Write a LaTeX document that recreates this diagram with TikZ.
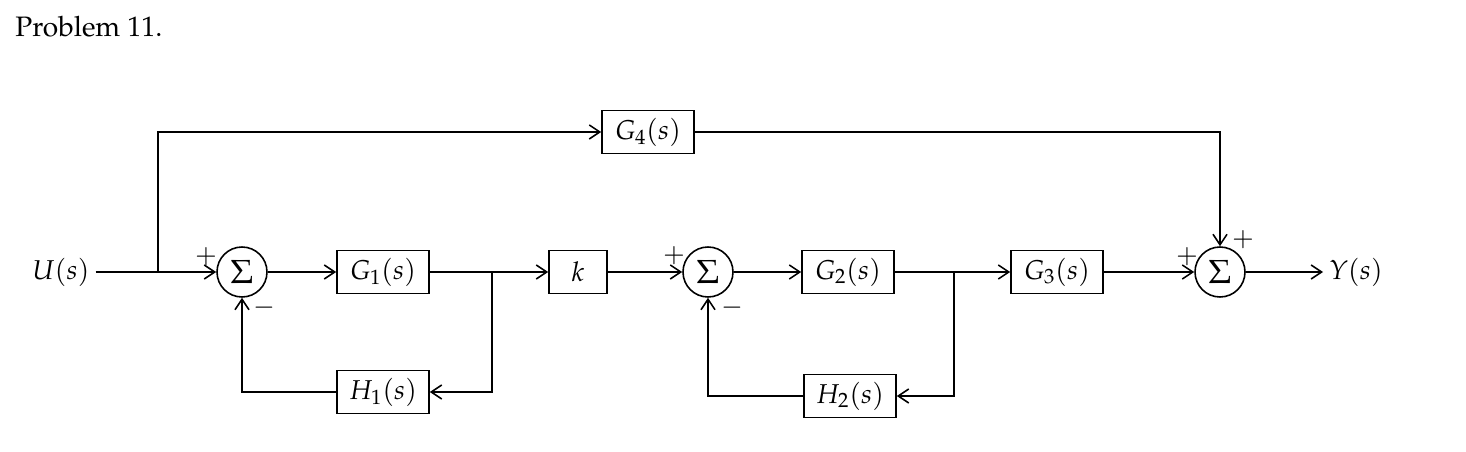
\documentclass[tikz,border=0pt]{standalone}
\usepackage[T1]{fontenc}
\usepackage{mathpazo}
\usetikzlibrary{arrows.meta, positioning}

\tikzset{
  block/.style={draw, line width=0.9pt, minimum width=1.84cm, minimum height=0.86cm, inner sep=0pt},
  sumnode/.style={draw, circle, line width=0.9pt, minimum size=1cm, inner sep=0pt, font=\fontsize{19}{22}\selectfont},
  sig/.style={-{Straight Barb[length=6pt,width=8pt]}, line width=0.9pt},
  wire/.style={line width=0.9pt},
  sign/.style={inner sep=0pt, font=\fontsize{15}{18}\selectfont},
}

\begin{document}
\begin{tikzpicture}[x=0.02cm, y=-0.02cm, font=\fontsize{15.5}{18}\selectfont]
  \useasboundingbox (0,0) rectangle (1466,452);
  \node[anchor=base west, inner sep=0pt, font=\fontsize{16}{19}\selectfont] (title) at (15,37) {Problem 11.};

  % forward path
  \node (u) at (61,272) {$U(s)$};
  \node[sumnode] (s1) at (242,272) {$\Sigma$};
  \node[block] (g1) at (383,272) {$G_1(s)$};
  \node[block, minimum width=1.16cm] (k) at (578,272) {$k$};
  \node[sumnode] (s2) at (708,272) {$\Sigma$};
  \node[block] (g2) at (848,272) {$G_2(s)$};
  \node[block] (g3) at (1057,272) {$G_3(s)$};
  \node[sumnode] (s3) at (1220,272) {$\Sigma$};
  \node (y) at (1356,272) {$Y(s)$};

  % feedback and feedforward blocks
  \node[block] (h1) at (383,392) {$H_1(s)$};
  \node[block] (h2) at (850,396) {$H_2(s)$};
  \node[block] (g4) at (648,132) {$G_4(s)$};

  \coordinate (b0) at (158,272);
  \coordinate (b1) at (492,272);
  \coordinate (b2) at (954,272);

  \draw[wire] (u) -- (b0);
  \draw[sig] (b0) -- (s1);
  \draw[sig] (b0) |- (g4);
  \draw[sig] (g4) -| (s3);
  \draw[sig] (s1) -- (g1);
  \draw[sig] (g1) -- (k);
  \draw[sig] (b1) |- (h1);
  \draw[sig] (h1) -| (s1);
  \draw[sig] (k) -- (s2);
  \draw[sig] (s2) -- (g2);
  \draw[sig] (g2) -- (g3);
  \draw[sig] (b2) |- (h2);
  \draw[sig] (h2) -| (s2);
  \draw[sig] (g3) -- (s3);
  \draw[sig] (s3) -- (y);

  % signs
  \node[sign] (p1) at (206,257) {$+$};
  \node[sign] (m1) at (264,308) {$-$};
  \node[sign] (p2) at (674,256) {$+$};
  \node[sign] (m2) at (732,308) {$-$};
  \node[sign] (p3) at (1187,257) {$+$};
  \node[sign] (p4) at (1243,240) {$+$};
\end{tikzpicture}
\end{document}
